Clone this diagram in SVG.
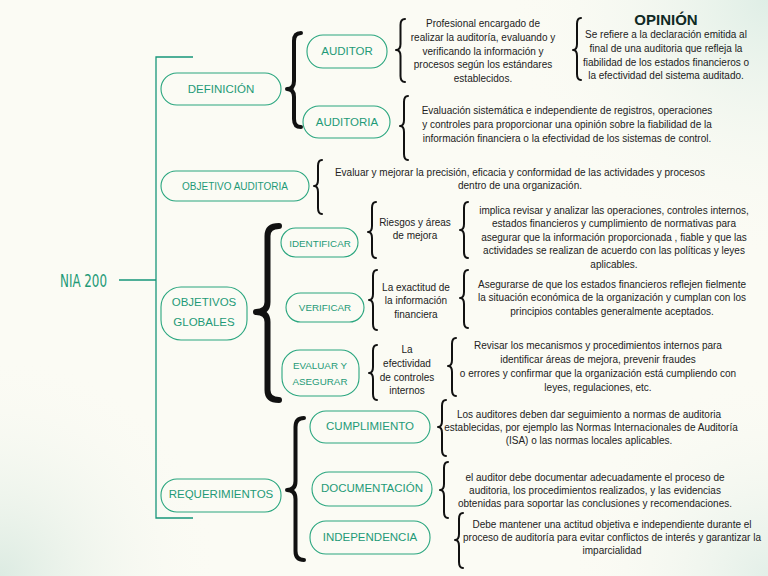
<svg xmlns="http://www.w3.org/2000/svg" width="768" height="576" viewBox="0 0 768 576">
<defs>
<radialGradient id="g1" cx="768" cy="0" r="260" gradientUnits="userSpaceOnUse">
<stop offset="0" stop-color="#dfeee6"/><stop offset="1" stop-color="#fbfbf4" stop-opacity="0"/>
</radialGradient>
<radialGradient id="g2" cx="0" cy="576" r="220" gradientUnits="userSpaceOnUse">
<stop offset="0" stop-color="#dcebe2"/><stop offset="1" stop-color="#fbfbf4" stop-opacity="0"/>
</radialGradient>
<radialGradient id="g3" cx="768" cy="576" r="200" gradientUnits="userSpaceOnUse">
<stop offset="0" stop-color="#e3efe8"/><stop offset="1" stop-color="#fbfbf4" stop-opacity="0"/>
</radialGradient>
<style>
.n rect{fill:none;stroke:#2aa67f;stroke-width:1.1}
.n text{font-family:"Liberation Sans",Arial,sans-serif;font-size:11.5px;fill:#1e9a77;text-anchor:middle;dominant-baseline:central}
.t{font-family:"Liberation Sans",Arial,sans-serif;font-size:10px;fill:#222;text-anchor:middle;dominant-baseline:central}
.b{fill:none;stroke:#111;stroke-width:2;stroke-linecap:round;stroke-linejoin:round}
.bb{fill:none;stroke:#111;stroke-width:4;stroke-linecap:round;stroke-linejoin:round}
.c{fill:none;stroke:#17967a;stroke-width:1.3}
</style>
</defs>
<rect width="768" height="576" fill="#fbfbf4"/>
<rect width="768" height="576" fill="url(#g1)"/>
<rect width="768" height="576" fill="url(#g2)"/>
<rect width="768" height="576" fill="url(#g3)"/>

<g id="connectors">
<path class="c" d="M119,280 H156 M193,57 H156 V518 H193"/>
<path class="bb" d="M301,33 Q294,33 294,41 L294,81 Q294,89 287,89 Q294,89 294,97 L294,119 Q294,127 301,127"/>
<path class="b" d="M405,19 Q400.5,19 400.5,25 L400.5,44 Q400.5,50 396,50 Q400.5,50 400.5,56 L400.5,76 Q400.5,82 405,82"/>
<path class="b" d="M408,96 Q404,96 404,102 L404,120 Q404,126 400,126 Q404,126 404,132 L404,154 Q404,160 408,160"/>
<path class="b" d="M581,18 Q577,18 577,24 L577,44 Q577,50 573,50 Q577,50 577,56 L577,74 Q577,80 581,80"/>
<path class="b" d="M322,160 Q318,160 318,166 L318,180 Q318,186 314,186 Q318,186 318,192 L318,208 Q318,214 322,214"/>
<path class="bb" style="stroke-width:6" d="M279,226 Q267.5,226 267.5,236 L267.5,302 Q267.5,312 256,312 Q267.5,312 267.5,322 L267.5,390 Q267.5,400 279,400"/>
<path class="b" d="M376,202 Q372,202 372,208 L372,226 Q372,232 368,232 Q372,232 372,238 L372,252 Q372,258 376,258"/>
<path class="b" d="M468,202 Q464,202 464,208 L464,224 Q464,230 460,230 Q464,230 464,236 L464,252 Q464,258 468,258"/>
<path class="b" d="M377,270 Q373,270 373,276 L373,294 Q373,300 369,300 Q373,300 373,306 L373,324 Q373,330 377,330"/>
<path class="b" d="M468,270 Q464,270 464,276 L464,292 Q464,298 460,298 Q464,298 464,304 L464,322 Q464,328 468,328"/>
<path class="b" d="M377,345 Q373,345 373,351 L373,367 Q373,373 369,373 Q373,373 373,379 L373,394 Q373,400 377,400"/>
<path class="b" d="M456,338 Q452,338 452,344 L452,360 Q452,366 448,366 Q452,366 452,372 L452,390 Q452,396 456,396"/>
<path class="bb" d="M304,418 Q295.5,418 295.5,427 L295.5,481 Q295.5,490 287,490 Q295.5,490 295.5,499 L295.5,551 Q295.5,560 304,560"/>
<path class="b" d="M446,400 Q442,400 442,406 L442,421 Q442,427 438,427 Q442,427 442,433 L442,450 Q442,456 446,456"/>
<path class="b" d="M448,462 Q444,462 444,468 L444,484 Q444,490 440,490 Q444,490 444,496 L444,512 Q444,518 448,518"/>
<path class="b" d="M463,513 Q459,513 459,519 L459,534 Q459,540 455,540 Q459,540 459,546 L459,562 Q459,568 463,568"/>
</g>

<g id="root"><text x="60" y="280" textLength="47" lengthAdjust="spacingAndGlyphs" style="font-family:'DejaVu Sans Condensed','DejaVu Sans',sans-serif;font-size:18px;fill:#1e9a77;dominant-baseline:central">NIA 200</text></g>

<g id="definicion" class="n"><rect x="161" y="73" width="120" height="32" rx="16"/><text x="221" y="89">DEFINICIÓN</text></g>
<g id="auditor" class="n"><rect x="307" y="35" width="80" height="33" rx="16"/><text x="347" y="51">AUDITOR</text></g>
<g id="auditoria" class="n"><rect x="303" y="106" width="87" height="32" rx="16"/><text x="347" y="122">AUDITORIA</text></g>
<g id="objetivo-auditoria" class="n"><rect x="161" y="171" width="148" height="30" rx="15"/><text x="235" y="186" style="font-size:10px">OBJETIVO AUDITORIA</text></g>
<g id="objetivos-globales" class="n"><rect x="161" y="287" width="86" height="53" rx="20"/><text x="204" y="302">OBJETIVOS</text><text x="204" y="322">GLOBALES</text></g>
<g id="identificar" class="n"><rect x="281" y="228" width="77" height="29" rx="14.5"/><text x="320" y="243" style="font-size:9.8px">IDENTIFICAR</text></g>
<g id="verificar" class="n"><rect x="286" y="293" width="78" height="29" rx="14.5"/><text x="325" y="307" style="font-size:9.8px">VERIFICAR</text></g>
<g id="evaluar" class="n"><rect x="282" y="350" width="77" height="46" rx="18"/><text x="320" y="365" style="font-size:9.8px">EVALUAR Y</text><text x="320" y="381" style="font-size:9.8px">ASEGURAR</text></g>
<g id="requerimientos" class="n"><rect x="161" y="479" width="120" height="33" rx="16"/><text x="221" y="494">REQUERIMIENTOS</text></g>
<g id="cumplimiento" class="n"><rect x="310" y="411" width="120" height="32" rx="16"/><text x="370" y="426">CUMPLIMIENTO</text></g>
<g id="documentacion" class="n"><rect x="312" y="472" width="120" height="34" rx="17"/><text x="372" y="488">DOCUMENTACIÓN</text></g>
<g id="independencia" class="n"><rect x="310" y="521" width="120" height="33" rx="16"/><text x="370" y="537">INDEPENDENCIA</text></g>

<g id="texts">
<text class="t" x="483" y="23">Profesional encargado de</text>
<text class="t" x="483" y="37">realizar la auditoría, evaluando y</text>
<text class="t" x="483" y="51">verificando la información y</text>
<text class="t" x="483" y="64">procesos según los estándares</text>
<text class="t" x="483" y="78">establecidos.</text>

<text x="666" y="19" style="font-family:'Liberation Sans',Arial,sans-serif;font-weight:bold;font-size:15px;fill:#0f2a24;text-anchor:middle;dominant-baseline:central">OPINIÓN</text>
<text class="t" x="666" y="34">Se refiere a la declaración emitida al</text>
<text class="t" x="666" y="48">final de una auditoria que refleja la</text>
<text class="t" x="666" y="62">fiabilidad de los estados financieros o</text>
<text class="t" x="666" y="75">la efectividad del sistema auditado.</text>

<text class="t" x="567" y="110">Evaluación sistemática e independiente de registros, operaciones</text>
<text class="t" x="567" y="124">y controles para proporcionar una opinión sobre la fiabilidad de la</text>
<text class="t" x="567" y="138">información financiera o la efectividad de los sistemas de control.</text>

<text class="t" x="520" y="172">Evaluar y mejorar la precisión, eficacia y conformidad de las actividades y procesos</text>
<text class="t" x="520" y="185">dentro de una organización.</text>

<text class="t" x="415" y="222">Riesgos y áreas</text>
<text class="t" x="415" y="235">de mejora</text>

<text class="t" x="614" y="210">implica revisar y analizar las operaciones, controles internos,</text>
<text class="t" x="614" y="223">estados financieros y cumplimiento de normativas para</text>
<text class="t" x="614" y="237">asegurar que la información proporcionada , fiable y que las</text>
<text class="t" x="614" y="250">actividades se realizan de acuerdo con las políticas y leyes</text>
<text class="t" x="614" y="264">aplicables.</text>

<text class="t" x="416" y="287">La exactitud de</text>
<text class="t" x="416" y="300">la información</text>
<text class="t" x="416" y="314">financiera</text>

<text class="t" x="612" y="284">Asegurarse de que los estados financieros reflejen fielmente</text>
<text class="t" x="612" y="297">la situación económica de la organización y cumplan con los</text>
<text class="t" x="612" y="311">principios contables generalmente aceptados.</text>

<text class="t" x="407" y="349">La</text>
<text class="t" x="407" y="363">efectividad</text>
<text class="t" x="407" y="377">de controles</text>
<text class="t" x="407" y="390">internos</text>

<text class="t" x="598" y="345">Revisar los mecanismos y procedimientos internos para</text>
<text class="t" x="598" y="359">identificar áreas de mejora,  prevenir fraudes</text>
<text class="t" x="598" y="373">o errores y confirmar que la organización está cumpliendo con</text>
<text class="t" x="598" y="387">leyes, regulaciones, etc.</text>

<text class="t" x="589" y="414">Los auditores deben dar seguimiento a  normas de auditoria</text>
<text class="t" x="591" y="427">establecidas, por ejemplo las Normas Internacionales de Auditoría</text>
<text class="t" x="589" y="440">(ISA) o las normas locales aplicables.</text>

<text class="t" x="595" y="477">el auditor debe documentar adecuadamente el proceso de</text>
<text class="t" x="595" y="490">auditoria, los procedimientos realizados, y las evidencias</text>
<text class="t" x="595" y="503">obtenidas para soportar las conclusiones y recomendaciones.</text>

<text class="t" x="612" y="524">Debe mantener una actitud objetiva e independiente durante el</text>
<text class="t" x="612" y="537">proceso de auditoría para evitar conflictos de interés y garantizar la</text>
<text class="t" x="612" y="550">imparcialidad</text>
</g>
</svg>
